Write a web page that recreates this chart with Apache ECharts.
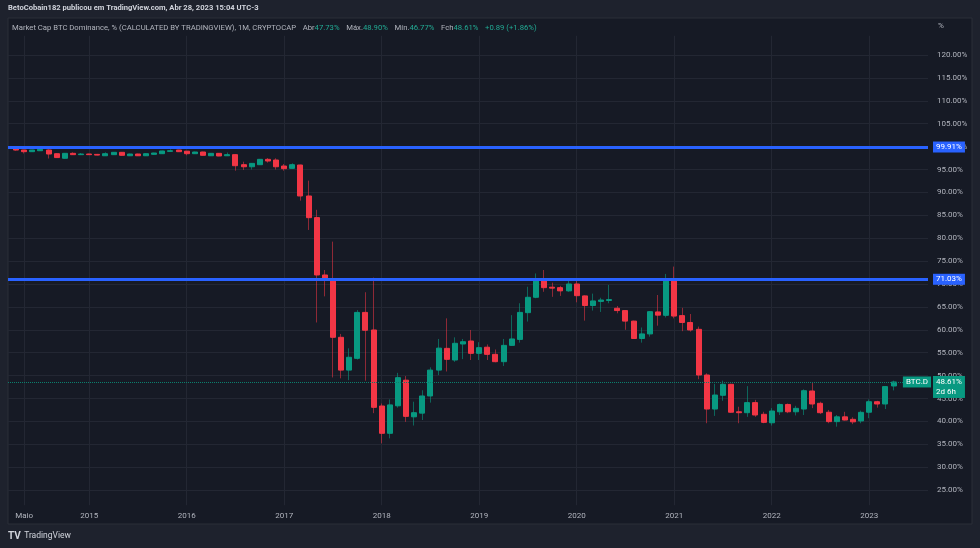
<!DOCTYPE html>
<html>
<head>
<meta charset="utf-8">
<script src="https://cdn.jsdelivr.net/npm/echarts@6/dist/echarts.min.js"></script>
<style>
html,body{margin:0;padding:0;background:#1e222d;}
#chart{width:980px;height:548px;}
</style>
</head>
<body>
<div id="chart"></div>
<script>
// ---- DATA ----
const startYear = 2014, startMonth = 4, totalSlots = 112; // 109 candles + empty right margin
const categories = [];
for (let i = 0; i < totalSlots; i++) {
  const m = startMonth - 1 + i;
  const y = startYear + Math.floor(m / 12);
  const mm = (m % 12) + 1;
  categories.push(y + '-' + (mm < 10 ? '0' + mm : mm));
}
const tickLabels = {
  '2014-05': 'Maio', '2015-01': '2015', '2016-01': '2016', '2017-01': '2017', '2018-01': '2018',
  '2019-01': '2019', '2020-01': '2020', '2021-01': '2021', '2022-01': '2022', '2023-01': '2023'
};
const opens = [99.47,99.25,98.89,99.1,99.25,98.45,97.45,98.53,98.24,98.38,
  98.3,98.0,98.24,98.75,98.0,98.38,98.0,98.31,98.45,98.96,
  99.25,99.0,98.45,98.82,98.0,98.53,98.0,98.24,96.05,95.6,
  96.05,97.22,97.07,95.76,95.25,95.98,89.22,84.5,71.97,71.1,
  58.36,51.2,53.77,63.8,59.96,43.36,37.4,43.4,49.0,41.0,
  41.8,45.55,51.2,55.95,53.4,56.9,57.55,54.86,56.2,54.64,
  53.04,56.6,57.9,63.74,67.1,70.9,69.3,69.2,68.5,70.0,
  67.4,65.3,66.2,66.4,64.7,64.2,61.9,58.1,59.1,63.9,
  63.16,71.0,63.1,61.6,60.1,50.13,42.7,45.7,48.1,42.1,
  41.9,44.1,41.55,39.7,42.1,43.7,42.1,42.7,46.64,43.95,
  42.0,39.95,41.0,40.45,40.1,42.0,44.3,43.8,47.73];
const closes = [99.25,98.89,99.25,99.4,98.38,97.6,98.53,98.24,98.38,98.24,
  98.15,98.45,98.75,98.1,98.38,98.0,98.45,98.6,99.04,99.1,
  98.89,98.45,98.82,98.1,98.53,97.95,98.24,95.83,95.6,96.34,
  97.22,96.85,95.6,95.18,96.05,89.22,84.48,71.97,71.1,58.36,
  51.2,54.0,63.8,59.9,43.07,37.4,43.6,49.55,41.1,41.9,
  45.55,51.2,56.0,53.55,57.05,57.4,54.86,56.1,54.64,53.04,
  56.6,58.0,63.8,67.1,71.0,69.2,69.1,68.5,70.0,67.45,
  65.3,66.3,66.5,66.6,64.2,61.9,58.1,59.1,63.96,63.2,
  71.0,63.0,61.6,59.96,50.13,42.7,45.76,48.1,42.0,41.9,
  44.1,41.4,39.8,42.27,43.7,42.1,42.85,46.7,43.8,41.9,
  39.95,41.0,40.3,39.9,41.98,44.3,43.8,47.6,48.61];
const lows = [99.1,98.5,98.85,99.05,97.4,97.55,97.4,98.2,98.15,98.2,
  98.1,97.95,98.2,98.05,97.95,97.95,97.95,98.25,98.4,98.9,
  98.85,98.1,98.4,98.05,97.95,97.9,97.95,94.74,94.9,95.0,
  96.0,96.5,95.0,94.74,95.2,88.2,81.8,61.6,67.3,49.6,
  49.4,49.0,53.5,48.9,41.8,35.2,36.3,43.0,39.9,39.1,
  40.3,44.1,50.1,50.9,53.0,53.6,53.4,53.4,53.4,52.9,
  52.1,56.5,57.2,61.8,66.9,68.3,67.2,67.4,68.3,66.0,
  62.0,64.2,63.9,65.8,63.6,60.0,58.0,57.2,58.5,60.9,
  62.7,62.5,59.7,59.6,49.2,39.6,41.2,44.5,41.9,39.6,
  41.0,41.0,39.6,39.1,41.4,41.8,41.3,41.4,42.9,41.6,
  39.6,38.85,40.2,39.4,39.6,40.7,43.0,42.7,46.77];
const highs = [99.69,99.3,99.3,99.55,99.4,98.5,98.6,98.75,98.6,98.45,
  98.4,98.75,98.8,98.8,98.45,98.45,98.5,98.65,99.1,99.4,
  99.3,99.05,98.9,98.9,98.6,98.6,98.7,98.3,96.7,96.4,
  97.3,97.5,97.45,96.2,96.35,96.05,92.57,86.2,73.06,79.25,
  59.1,55.96,64.3,68.2,71.4,43.9,44.8,50.6,49.9,44.3,
  46.8,51.8,58.0,62.5,58.35,58.0,59.96,57.3,56.8,55.7,
  58.0,63.2,65.8,69.4,72.3,73.06,70.3,69.6,70.9,70.7,
  67.5,67.9,67.0,69.8,65.2,64.3,62.0,60.5,64.1,67.6,
  72.2,73.8,64.8,63.45,60.7,50.5,48.2,48.9,48.2,43.2,
  47.7,44.7,42.1,42.9,43.9,43.9,43.4,47.0,48.5,44.3,
  42.5,41.4,42.1,40.9,42.35,44.8,44.5,47.7,48.9];
const levelLines = [99.91, 71.03];
const lastPrice = 48.61;
const lastCountdown = '2d 6h';
const yMin = 20, yMax = 125, yInterval = 5;

// ---- STYLE ----
const UP = '#089981', DOWN = '#f23645';
const WICK_UP = 'rgba(8,153,129,0.6)', WICK_DOWN = 'rgba(242,54,69,0.55)';
const BLUE = '#2962ff';
const TXT = '#b2b5be';
const GRIDC = '#232733';
const FONT = 'Roboto, "Noto Sans", sans-serif';

const wickData = opens.map((o, i) => [o, closes[i], lows[i], highs[i]]);
const bodyData = opens.map((o, i) => [o, closes[i], Math.min(o, closes[i]), Math.max(o, closes[i])]);
const vLines = Object.keys(tickLabels).map(k => [{coord: [k, 124.2]}, {coord: [k, 21.7]}]);

const chart = echarts.init(document.getElementById('chart'), null, {renderer: 'canvas'});

const baseGraphic = [
  {type: 'rect', id: 'panel', z: -100, silent: true, shape: {x: 8, y: 18, width: 964, height: 506},
   style: {fill: '#161a25', stroke: '#2a2e39', lineWidth: 1}},
  {type: 'text', id: 'hdr', z: 100, left: 8, top: 4, silent: true,
   style: {text: 'BetoCobain182 publicou em TradingView.com, Abr 28, 2023 15:04 UTC-3',
           fill: '#d1d4dc', font: 'bold 7.6px ' + FONT}},
  {type: 'text', id: 'legend', z: 100, left: 12, top: 22, silent: true,
   style: {
     text: '{g|Market Cap BTC Dominance, % (CALCULATED BY TRADINGVIEW), 1M, CRYPTOCAP}  {g|Abr}{v|47.73%}  {g|Máx.}{v|48.90%}  {g|Mín.}{v|46.77%}  {g|Fch}{v|48.61%}  {v|+0.89 (+1.86%)}',
     rich: {g: {fill: TXT, fontSize: 7.7, fontFamily: FONT}, v: {fill: '#22ab94', fontSize: 7.7, fontFamily: FONT}}
   }},
  {type: 'text', id: 'pct', z: 100, left: 938, top: 22, silent: true,
   style: {text: '%', fill: TXT, font: '8px ' + FONT}},
  {type: 'text', id: 'footer', z: 100, left: 8, top: 530, silent: true,
   style: {text: '{l|TV} {t|TradingView}',
     rich: {l: {fill: '#d1d4dc', fontSize: 10, fontWeight: 'bold', fontFamily: FONT},
            t: {fill: '#d1d4dc', fontSize: 8.5, fontFamily: FONT}}}}
];

const option = {
  backgroundColor: '#1e222d',
  animation: false,
  grid: [
    {left: 12, top: 32.1, width: 910, height: 480.9},
    {left: 8, top: 32.1, width: 920, height: 480.9}
  ],
  xAxis: [
    {type: 'category', gridIndex: 0, data: categories, boundaryGap: true, offset: -8,
     axisLine: {show: false}, axisTick: {show: false}, splitLine: {show: false},
     axisLabel: {interval: (i, v) => tickLabels.hasOwnProperty(v), formatter: v => tickLabels[v] || '',
                 color: TXT, fontSize: 8, fontFamily: FONT, margin: 7}},
    {type: 'value', gridIndex: 1, min: 0, max: 1, show: false}
  ],
  yAxis: [
    {type: 'value', gridIndex: 0, min: yMin, max: yMax, interval: yInterval, show: false},
    {type: 'value', gridIndex: 1, min: yMin, max: yMax, interval: yInterval, position: 'right',
     axisLine: {show: false}, axisTick: {show: false},
     splitLine: {show: true, showMinLine: false, showMaxLine: false, lineStyle: {color: GRIDC, width: 1}},
     axisLabel: {showMinLabel: false, showMaxLabel: false, formatter: v => v.toFixed(2) + '%',
                 color: TXT, fontSize: 8, fontFamily: FONT, margin: 9, align: 'left'}}
  ],
  series: [
    {type: 'line', xAxisIndex: 0, yAxisIndex: 0, data: [], symbol: 'none', silent: true, z: 1,
     markLine: {z: 1, silent: true, symbol: ['none', 'none'], label: {show: false},
                lineStyle: {color: GRIDC, width: 1, type: 'solid'}, emphasis: {disabled: true}, data: vLines}},
    {type: 'candlestick', name: 'wick', xAxisIndex: 0, yAxisIndex: 0, data: wickData, barWidth: 1, z: 2,
     silent: true,
     itemStyle: {color: WICK_UP, color0: WICK_DOWN, borderColor: WICK_UP, borderColor0: WICK_DOWN, borderWidth: 1}},
    {type: 'candlestick', name: 'body', xAxisIndex: 0, yAxisIndex: 0, data: bodyData, barWidth: '68%', z: 3,
     silent: true,
     itemStyle: {color: UP, color0: DOWN, borderColor: UP, borderColor0: DOWN, borderWidth: 1}},
    {type: 'line', xAxisIndex: 1, yAxisIndex: 1, data: [[0.5, 50]], symbol: 'none', showSymbol: false, silent: true, z: 4,
     markLine: {
       silent: true, symbol: ['none', 'none'], emphasis: {disabled: true}, z: 6,
       data: [
         ...levelLines.map(v => ({yAxis: v,
           lineStyle: {color: BLUE, width: 3, type: 'solid'},
           label: {show: true, position: 'end', distance: 5, formatter: v.toFixed(2) + '%',
                   backgroundColor: BLUE, color: '#ffffff', fontSize: 8, fontFamily: FONT,
                   padding: [2, 3, 1, 3]}})),
         {yAxis: lastPrice,
          lineStyle: {color: '#0b7f6d', width: 1, type: 'dotted'},
          label: {show: false}}
       ]
     }}
  ],
  graphic: baseGraphic
};
chart.setOption(option);

const p = chart.convertToPixel({xAxisIndex: 1, yAxisIndex: 1}, [1, lastPrice]);
chart.setOption({graphic: baseGraphic.concat([
  {type: 'text', id: 'btcd', z: 100, x: p[0] + 3, y: p[1], silent: true,
   style: {text: 'BTC.D', fill: '#ffffff', font: '8px ' + FONT, align: 'right', verticalAlign: 'middle',
           backgroundColor: UP, padding: [2, 3, 1, 3]}},
  {type: 'text', id: 'lastbox', z: 100, x: p[0] + 5, y: p[1] - 6, silent: true,
   style: {text: lastPrice.toFixed(2) + '%\n' + lastCountdown, fill: '#ffffff', font: '8px ' + FONT,
           lineHeight: 10, align: 'left', verticalAlign: 'top',
           backgroundColor: UP, padding: [1, 3, 1, 3]}}
])});
</script>
</body>
</html>
